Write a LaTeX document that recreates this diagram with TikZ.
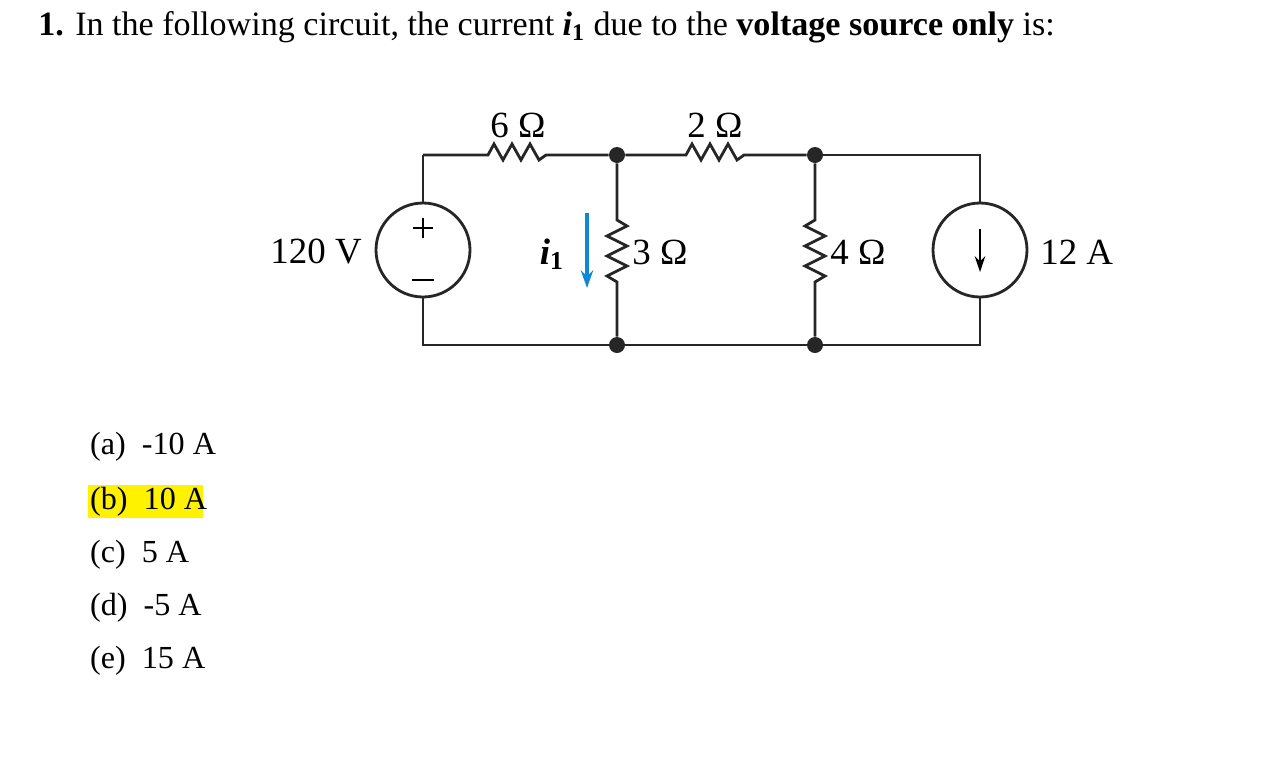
\documentclass[tikz,border=0pt]{standalone}
\usepackage{fontspec}
\setmainfont{Liberation Serif}
\usetikzlibrary{arrows.meta}
\begin{document}
\begin{tikzpicture}[x=0.02cm,y=-0.02cm,
  wire/.style={line width=1.6pt,color=black!85},
  dot/.style={circle,fill=black!85,inner sep=0pt,minimum size=0.32cm},
  src/.style={draw,line width=1.6pt,color=black!85,circle,minimum size=1.88cm,inner sep=0pt},
  lab/.style={font=\fontsize{21}{24}\selectfont,inner sep=0pt},
  opt/.style={font=\fontsize{18.3}{22}\selectfont,anchor=west,inner sep=1pt}]
\useasboundingbox (0,0) rectangle (1278,775);
\node[anchor=west,font=\fontsize{19.4}{22}\selectfont,inner sep=0pt] (title) at (38,27) {\textbf{1.} In the following circuit, the current \textbf{\textit{i}\textsubscript{1}} due to the \textbf{voltage source only} is:};
\coordinate (TL) at (423,155); \coordinate (BL) at (423,345);
\coordinate (TR) at (980,155); \coordinate (BR) at (980,345);
\node[dot] (n1) at (617,155) {};
\node[dot] (n2) at (815,155) {};
\node[dot] (n3) at (617,345) {};
\node[dot] (n4) at (815,345) {};
\node[src] (vs) at (423,250) {};
\node[src] (cs) at (980,250) {};
\draw[wire] (TL) -- (vs.north); \draw[wire] (vs.south) -- (BL) -- (n3) -- (n4) -- (BR) -- (cs.south);
\draw[wire] (cs.north) -- (TR) -- (n2);
\draw[line width=1pt] (413,228) -- (433,228) (423,218) -- (423,238);
\draw[line width=1pt] (412,280) -- (434,280);
\draw[line width=1.2pt,-{Stealth[length=9pt,width=6pt]}] (980,229) -- (980,272);
\draw[wire] (TL) -- (488,155) -- (494,144) -- (503,160) -- (512,144) -- (521,160) -- (530,144) -- (539,160) -- (546,155) -- (n1);
\draw[wire] (n1) -- (686,155) -- (692,144) -- (701,160) -- (710,144) -- (719,160) -- (728,144) -- (737,160) -- (744,155) -- (n2);
\draw[wire] (n1) -- (617,220) -- (627,226) -- (607,236) -- (627,246) -- (607,256) -- (627,266) -- (607,276) -- (617,282) -- (n3);
\draw[wire] (n2) -- (815,220) -- (805,226) -- (825,236) -- (805,246) -- (825,256) -- (805,266) -- (825,276) -- (815,282) -- (n4);
\node[lab] (l6) at (518,125) {6 Ω};
\node[lab] (l2) at (715,125) {2 Ω};
\node[lab,anchor=west] (l3) at (632,252) {3 Ω};
\node[lab,anchor=west] (l4) at (830,252) {4 Ω};
\node[lab,anchor=east] (l120) at (362,252) {120 V};
\node[lab,anchor=west] (l12) at (1040,252) {12 A};
\node[lab] (li) at (552,254) {\textbf{\textit{i}}\textsubscript{\textbf{1}}};
\draw[line width=1.8pt,color=cyan!70!blue,-{Stealth[length=10pt,width=7pt]}] (587,213) -- (587,288);
\fill[yellow] (88,485) rectangle (203,518);
\node[opt] (a) at (88,447) {(a)\ \ -10 A};
\node[opt] (b) at (88,502) {(b)\ \ 10 A};
\node[opt] (c) at (88,555) {(c)\ \ 5 A};
\node[opt] (d) at (88,608) {(d)\ \ -5 A};
\node[opt] (e) at (88,661) {(e)\ \ 15 A};
\end{tikzpicture}
\end{document}
